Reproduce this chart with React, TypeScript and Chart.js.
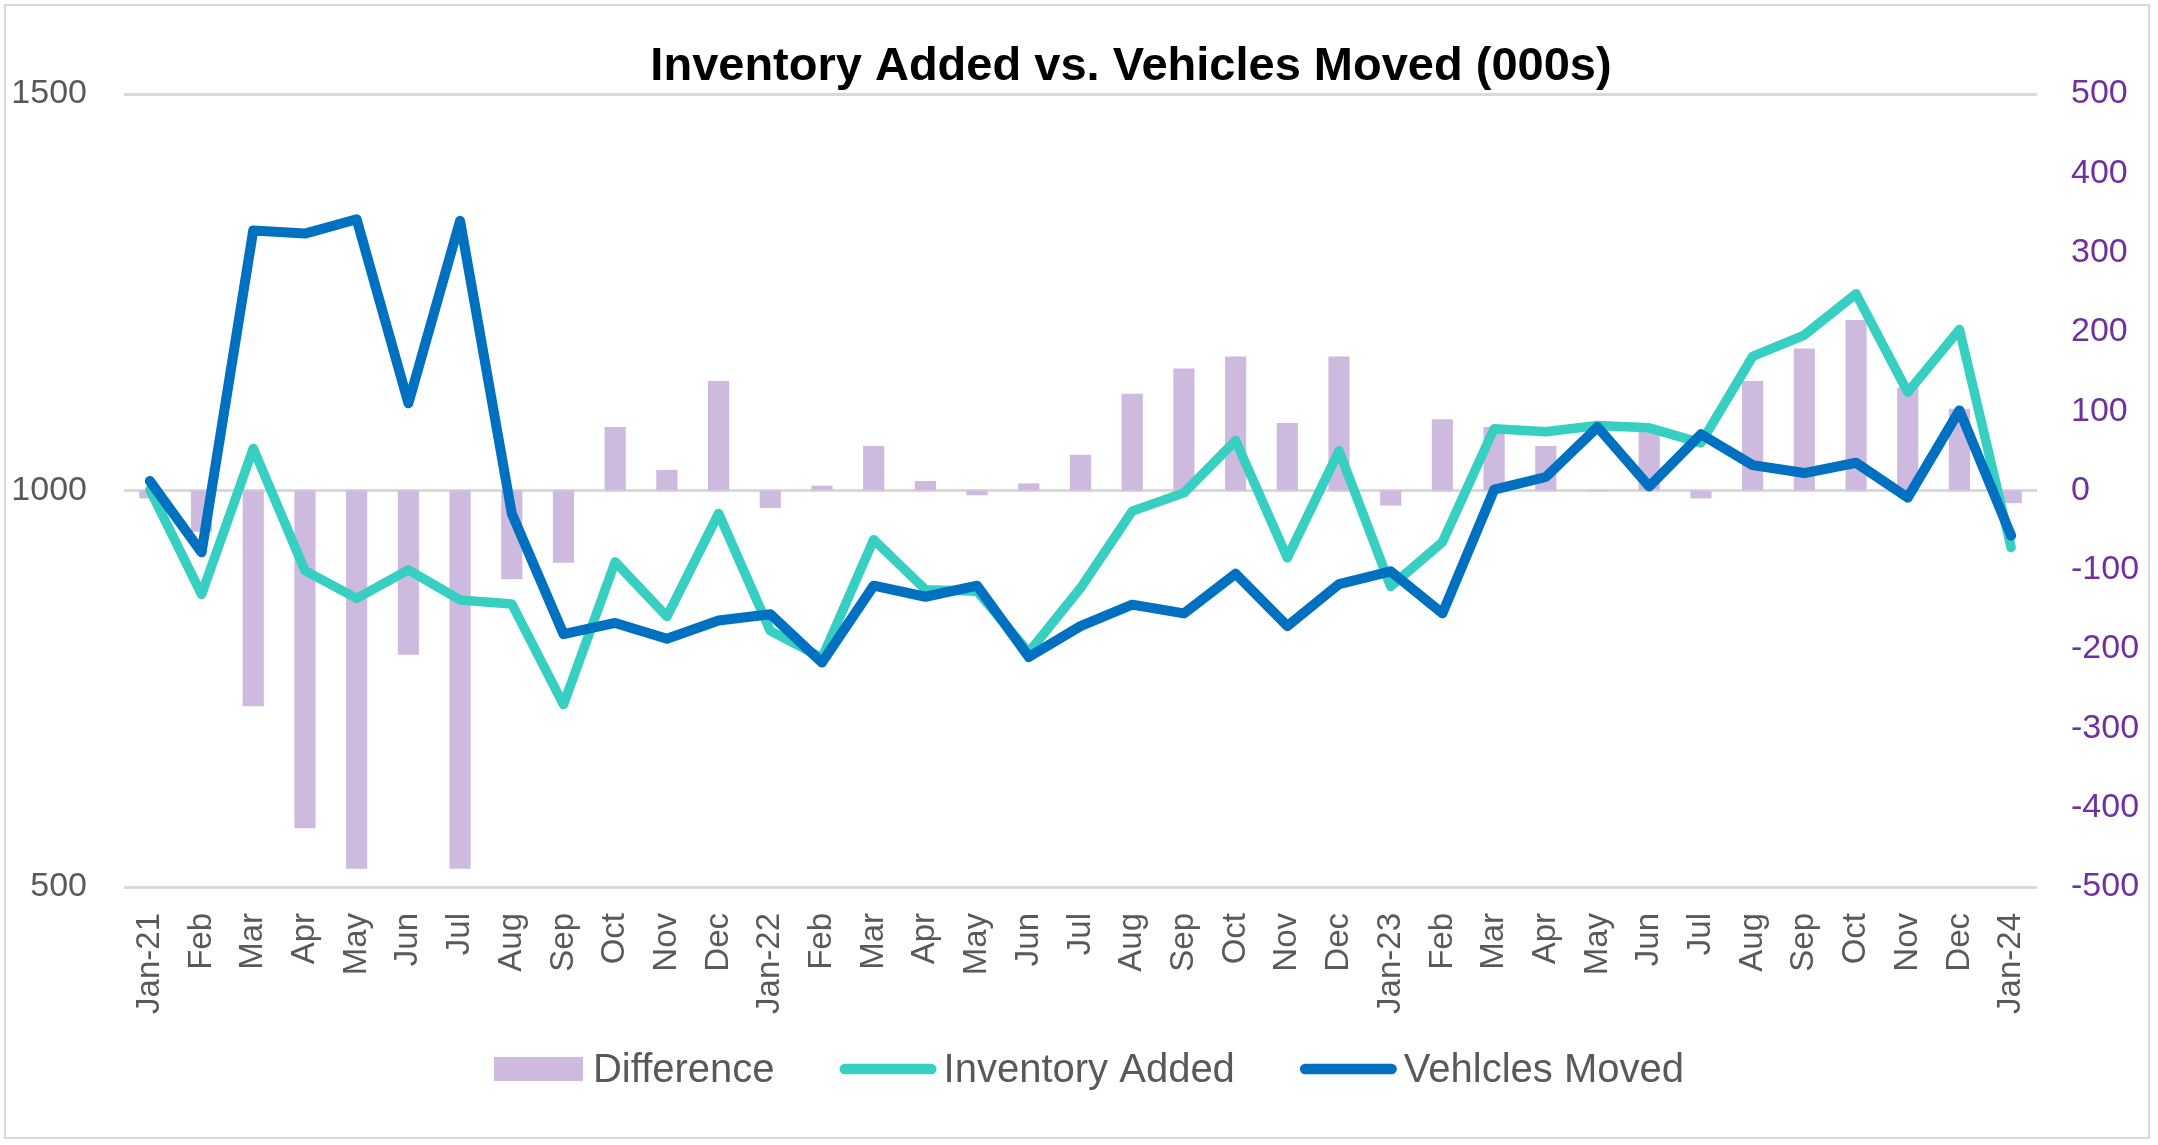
import React, { useEffect, useRef } from "react";
import { Chart, registerables } from "chart.js";

Chart.register(...registerables);

// Monthly figures, in thousands
const MONTHS = [
  "Jan-21", "Feb", "Mar", "Apr", "May", "Jun", "Jul", "Aug", "Sep", "Oct", "Nov", "Dec",
  "Jan-22", "Feb", "Mar", "Apr", "May", "Jun", "Jul", "Aug", "Sep", "Oct", "Nov", "Dec",
  "Jan-23", "Feb", "Mar", "Apr", "May", "Jun", "Jul", "Aug", "Sep", "Oct", "Nov", "Dec",
  "Jan-24",
];

const INVENTORY_ADDED = [
  1001, 869, 1053, 899, 864, 900, 862, 857, 730, 910, 841, 971,
  823, 789, 938, 875, 873, 796, 877, 974, 997, 1063, 915, 1050,
  879, 935, 1078, 1074, 1082, 1079, 1060, 1169, 1196, 1248, 1124, 1203,
  928,
];

const VEHICLES_MOVED = [
  1012, 922, 1328, 1324, 1342, 1110, 1340, 971, 819, 833, 813, 836,
  844, 783, 880, 866, 880, 790, 829, 856, 845, 895, 829, 882,
  898, 845, 1001, 1017, 1080, 1005, 1071, 1032, 1022, 1035, 991, 1101,
  943,
];

const DIFFERENCE = [
  -10, -52, -272, -426, -477, -207, -477, -112, -91, 80, 26, 138,
  -22, 6, 56, 12, -6, 9, 45, 122, 154, 169, 85, 169,
  -19, 90, 80, 56, -1, 75, -10, 138, 179, 215, 130, 103,
  -16,
];

const LEFT_TICKS = [500, 1000, 1500];
const RIGHT_TICKS = [-500, -400, -300, -200, -100, 0, 100, 200, 300, 400, 500];

const TITLE = "Inventory Added vs. Vehicles Moved (000s)";

const BAR_COLOR = "#CEBADF";
const TEAL = "#36CFC1";
const BLUE = "#0070C0";
const GRAY_TEXT = "#595959";
const PURPLE_TEXT = "#7030A0";
const GRID = "#D9D9D9";
const FONT = '"Liberation Sans", Arial, sans-serif';

// Bold title drawn over the top of the canvas
const titlePlugin = {
  id: "chartTitle",
  afterDraw(chart: Chart) {
    const { ctx } = chart;
    ctx.save();
    ctx.font = `bold 47px ${FONT}`;
    ctx.fillStyle = "#000000";
    ctx.textAlign = "center";
    ctx.textBaseline = "alphabetic";
    ctx.fillText(TITLE, chart.width * 0.5252, 74);
    ctx.restore();
  },
};

// One-row legend under the axis labels: a block for the bars, a thick
// rounded stroke for each line series
const legendPlugin = {
  id: "bottomLegend",
  afterDraw(chart: Chart) {
    const { ctx } = chart;
    ctx.save();
    ctx.font = `40px ${FONT}`;
    const items = chart.data.datasets.map((ds: any) => {
      const isBar = ds.type === "bar";
      const sw = isBar ? 89 : 97;
      const gap = isBar ? 10 : 7;
      return { ds, isBar, sw, gap, w: sw + gap + ctx.measureText(ds.label).width };
    });
    const ITEM_GAP = 65;
    const total =
      items.reduce((a, it) => a + it.w, 0) + ITEM_GAP * (items.length - 1);
    let x = chart.width / 2 + 12 - total / 2;
    const cy = chart.height - 68;
    items.forEach((it) => {
      if (it.isBar) {
        ctx.fillStyle = it.ds.backgroundColor;
        ctx.fillRect(x, cy - 12, it.sw, 24);
      } else {
        ctx.strokeStyle = it.ds.borderColor;
        ctx.lineWidth = 10.5;
        ctx.lineCap = "round";
        ctx.beginPath();
        ctx.moveTo(x + 5.25, cy);
        ctx.lineTo(x + it.sw - 5.25, cy);
        ctx.stroke();
      }
      ctx.fillStyle = GRAY_TEXT;
      ctx.textAlign = "left";
      ctx.textBaseline = "alphabetic";
      ctx.fillText(it.ds.label, x + it.sw + it.gap, cy + 13);
      x += it.w + ITEM_GAP;
    });
    ctx.restore();
  },
};

export default function App() {
  const canvasRef = useRef<HTMLCanvasElement | null>(null);

  useEffect(() => {
    if (!canvasRef.current) return;
    Chart.defaults.font.family = FONT;

    const chart = new Chart(canvasRef.current, {
      type: "bar",
      data: {
        labels: MONTHS,
        datasets: [
          {
            type: "bar",
            label: "Difference",
            data: DIFFERENCE,
            yAxisID: "y1",
            backgroundColor: BAR_COLOR,
            borderWidth: 0,
            barPercentage: 0.41,
            categoryPercentage: 1.0,
            order: 3,
          },
          {
            type: "line",
            label: "Inventory Added",
            data: INVENTORY_ADDED,
            yAxisID: "y",
            borderColor: TEAL,
            backgroundColor: TEAL,
            borderWidth: 9.5,
            pointRadius: 0,
            tension: 0,
            borderJoinStyle: "round",
            borderCapStyle: "round",
            order: 2,
          },
          {
            type: "line",
            label: "Vehlcles Moved",
            data: VEHICLES_MOVED,
            yAxisID: "y",
            borderColor: BLUE,
            backgroundColor: BLUE,
            borderWidth: 10,
            pointRadius: 0,
            tension: 0,
            borderJoinStyle: "round",
            borderCapStyle: "round",
            order: 1,
          },
        ],
      },
      options: {
        responsive: true,
        maintainAspectRatio: false,
        animation: false,
        layout: { padding: { top: 88, bottom: 120, left: 0, right: 0 } },
        plugins: {
          title: { display: false },
          tooltip: { enabled: false },
          legend: { display: false },
        },
        scales: {
          x: {
            grid: { display: false, drawTicks: false },
            border: { display: false },
            ticks: {
              color: GRAY_TEXT,
              font: { size: 33 },
              minRotation: 90,
              maxRotation: 90,
              autoSkip: false,
              padding: 26,
            },
            afterFit: (s: any) => {
              s.height = 130;
            },
          },
          y: {
            position: "left",
            min: 500,
            max: 1500,
            afterBuildTicks: (s: any) => {
              s.ticks = LEFT_TICKS.map((v) => ({ value: v }));
            },
            grid: { color: GRID, lineWidth: 3, drawTicks: false },
            border: { display: false },
            ticks: {
              color: GRAY_TEXT,
              font: { size: 34 },
              padding: 37,
              callback: (v: any) => String(v),
            },
            afterFit: (s: any) => {
              s.width = 118;
            },
          },
          y1: {
            position: "right",
            min: -500,
            max: 500,
            afterBuildTicks: (s: any) => {
              s.ticks = RIGHT_TICKS.map((v) => ({ value: v }));
            },
            grid: { display: false, drawTicks: false },
            border: { display: false },
            ticks: {
              color: PURPLE_TEXT,
              font: { size: 34 },
              padding: 34,
              callback: (v: any) => String(v),
            },
            afterFit: (s: any) => {
              s.width = 111;
            },
          },
        },
      },
      plugins: [titlePlugin, legendPlugin],
    });

    return () => chart.destroy();
  }, []);

  return (
    <div
      style={{
        position: "fixed",
        left: 0,
        top: 0,
        width: 2158,
        height: 1145,
        background: "#ffffff",
      }}
    >
      <div
        style={{
          position: "absolute",
          left: 4,
          top: 4,
          width: 2146,
          height: 1135,
          border: `2px solid ${GRID}`,
          boxSizing: "border-box",
        }}
      >
        <canvas ref={canvasRef} />
      </div>
    </div>
  );
}
